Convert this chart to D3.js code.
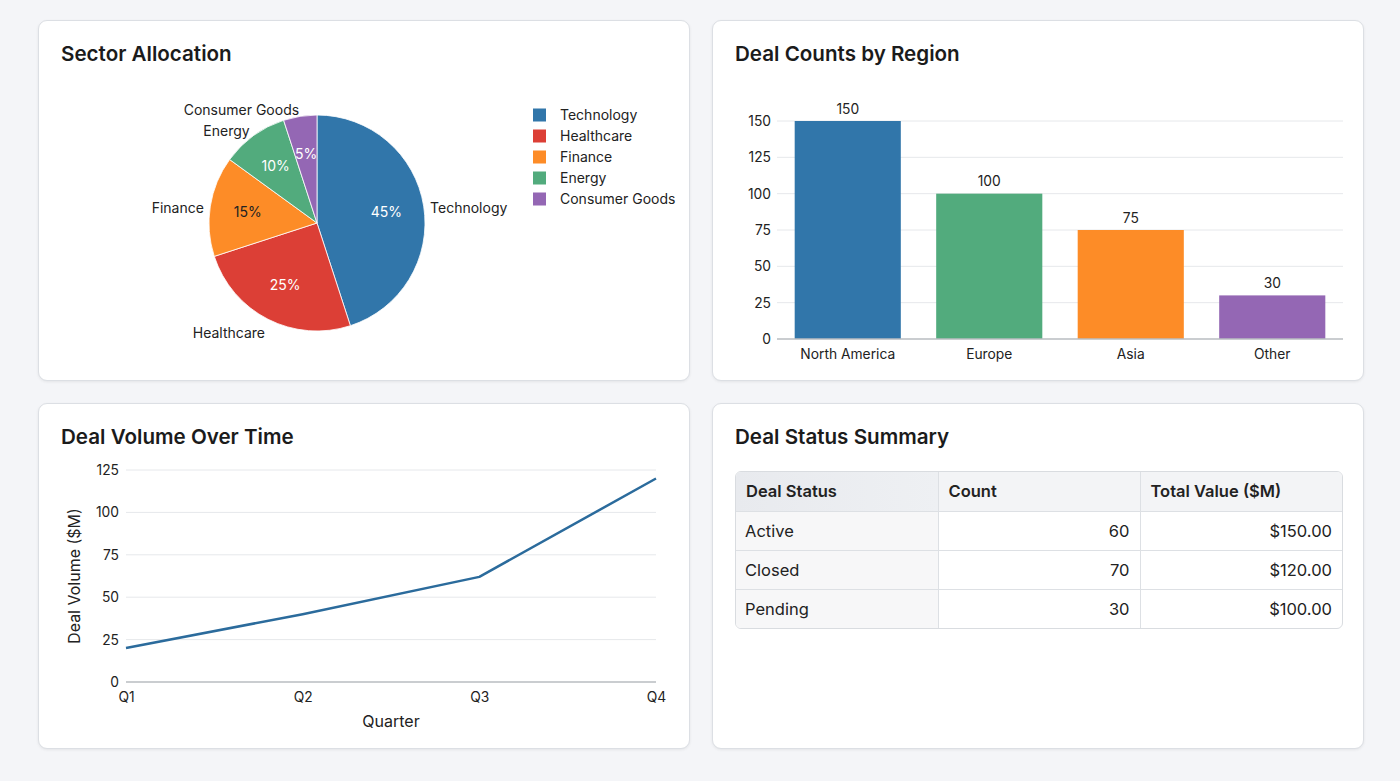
<!DOCTYPE html>
<html>
<head>
<meta charset="utf-8">
<script src="https://cdn.jsdelivr.net/npm/d3@7"></script>
<style>
  html, body { margin: 0; padding: 0; }
  body { width: 1400px; height: 781px; background: #f4f5f8; position: relative; overflow: hidden;
         font-family: Inter, "Noto Sans", sans-serif; }
  .card { position: absolute; background: #fff; border: 1px solid #dcdfe4; border-radius: 9px;
          box-shadow: 0 1px 3px rgba(0,0,0,0.07); box-sizing: border-box; }
  svg#main { position: absolute; left: 0; top: 0; }
  #tbl { position: absolute; left: 735px; top: 471px; width: 608px; border: 1px solid #d9dce0;
         border-radius: 6px; overflow: hidden; box-sizing: border-box; }
  table { border-collapse: collapse; width: 100%; font-size: 16.5px; color: #222; table-layout: fixed; }
  th, td { height: 39px; padding: 0 10px; border-right: 1px solid #dde0e4; border-bottom: 1px solid #dde0e4; box-sizing: border-box; }
  th:last-child, td:last-child { border-right: none; }
  tr:last-child td { border-bottom: none; }
  th { text-align: left; font-weight: 600; background: #f3f4f6; }
  th:first-child { background: linear-gradient(90deg, #e8eaee, #eef0f3); }
  td:first-child { background: #f7f7f8; padding-left: 9px; }
  td.num { text-align: right; }
</style>
</head>
<body>
<div class="card" style="left:38px;top:20px;width:652px;height:361px"></div>
<div class="card" style="left:712px;top:20px;width:652px;height:361px"></div>
<div class="card" style="left:38px;top:403px;width:652px;height:346px"></div>
<div class="card" style="left:712px;top:403px;width:652px;height:346px"></div>
<svg id="main" width="1400" height="781"></svg>
<div id="tbl"></div>
<script>
// ---- data ----
const sectors = ["Technology", "Healthcare", "Finance", "Energy", "Consumer Goods"];
const sectorShares = [45, 25, 15, 10, 5];
const sectorColors = ["#3176aa", "#dc3f36", "#fd8c27", "#52ab7d", "#9467b4"];

const regions = ["North America", "Europe", "Asia", "Other"];
const regionCounts = [150, 100, 75, 30];
const regionColors = ["#3176aa", "#52ab7d", "#fd8c27", "#9467b4"];
const regionTicks = [0, 25, 50, 75, 100, 125, 150];

const quarters = ["Q1", "Q2", "Q3", "Q4"];
const volumes = [20, 40, 62, 120];
const volumeTicks = [0, 25, 50, 75, 100, 125];

const tableHeaders = ["Deal Status", "Count", "Total Value ($M)"];
const statuses = ["Active", "Closed", "Pending"];
const statusCounts = [60, 70, 30];
const statusValues = [150, 120, 100];

const titles = ["Sector Allocation", "Deal Counts by Region", "Deal Volume Over Time", "Deal Status Summary"];

const svg = d3.select("#main");
const txt = "#222";

// titles
const titlePos = [[61, 54], [735, 54], [61, 437], [735, 437]];
svg.selectAll("text.title").data(titles).join("text")
  .attr("class", "title")
  .attr("x", (d, i) => titlePos[i][0]).attr("y", (d, i) => titlePos[i][1])
  .attr("dy", "0.35em")
  .attr("font-size", 20.6).attr("font-weight", 600).attr("fill", "#1b1b1b")
  .text(d => d);

// ---- Pie ----
const cx = 317, cy = 223, R = 108;
const pieData = d3.pie().sort(null).value(d => d.v)(sectors.map((s, i) => ({ s, v: sectorShares[i], c: sectorColors[i] })));
const arc = d3.arc().innerRadius(0).outerRadius(R);
const inArc = d3.arc().innerRadius(R * 0.65).outerRadius(R * 0.65);
const pg = svg.append("g").attr("transform", `translate(${cx},${cy})`);
pg.selectAll("path").data(pieData).join("path")
  .attr("d", arc).attr("fill", d => d.data.c).attr("stroke", "#fff").attr("stroke-width", 0.8);
pg.selectAll("text.in").data(pieData).join("text")
  .attr("class", "in")
  .attr("transform", d => `translate(${inArc.centroid(d)})`)
  .attr("text-anchor", "middle").attr("dy", "0.35em").attr("font-size", 14)
  .attr("fill", d => d.data.s === "Finance" ? "#222" : "#fff")
  .text(d => d.data.v + "%");
function outPos(d) {
  const a = (d.startAngle + d.endAngle) / 2;
  return [Math.sin(a) * R * 1.06, -Math.cos(a) * R * 1.1 + 4];
}
pg.selectAll("text.out").data(pieData).join("text")
  .attr("class", "out")
  .attr("transform", d => `translate(${outPos(d)})`)
  .attr("text-anchor", d => outPos(d)[0] >= 0 ? "start" : "end")
  .attr("dy", "0.35em").attr("font-size", 14).attr("fill", txt)
  .text(d => d.data.s);

// legend
const lg = svg.append("g").attr("transform", "translate(533,115)");
const li = lg.selectAll("g").data(sectors).join("g").attr("transform", (d, i) => `translate(0,${i * 21})`);
li.append("rect").attr("x", 0).attr("y", -6.5).attr("width", 13).attr("height", 13).attr("fill", (d, i) => sectorColors[i]);
li.append("text").attr("x", 27).attr("dy", "0.35em").attr("font-size", 14).attr("fill", txt).text(d => d);

// ---- Bar chart ----
const bx = d3.scaleBand().domain(regions).range([777, 1343]).paddingInner(0.25).paddingOuter(0.125);
const by = d3.scaleLinear().domain([0, 150]).range([339, 121]);
const bg = svg.append("g");
bg.append("g").selectAll("line").data(regionTicks.slice(1)).join("line")
  .attr("x1", 777).attr("x2", 1343).attr("y1", d => by(d)).attr("y2", d => by(d))
  .attr("stroke", "#e6e8eb").attr("stroke-width", 1);
const byAxis = bg.append("g").attr("transform", "translate(777,0)")
  .call(d3.axisLeft(by).tickValues(regionTicks).tickSize(0).tickPadding(6));
byAxis.select(".domain").remove();
byAxis.selectAll("text").attr("font-size", 13.8).attr("fill", txt).attr("font-family", "Inter, sans-serif");
bg.selectAll("rect.bar").data(regions).join("rect").attr("class", "bar")
  .attr("x", d => bx(d)).attr("width", bx.bandwidth())
  .attr("y", (d, i) => by(regionCounts[i])).attr("height", (d, i) => by(0) - by(regionCounts[i]))
  .attr("fill", (d, i) => regionColors[i]);
bg.append("line").attr("x1", 777).attr("x2", 1343).attr("y1", by(0)).attr("y2", by(0))
  .attr("stroke", "#b9bcc1").attr("stroke-width", 1.5);
const bxAxis = bg.append("g").attr("transform", `translate(0,${by(0)})`)
  .call(d3.axisBottom(bx).tickSize(0).tickPadding(10));
bxAxis.select(".domain").remove();
bxAxis.selectAll("text").attr("font-size", 13.8).attr("fill", txt).attr("font-family", "Inter, sans-serif");
bg.selectAll("text.val").data(regions).join("text").attr("class", "val")
  .attr("x", d => bx(d) + bx.bandwidth() / 2).attr("y", (d, i) => by(regionCounts[i]) - 12)
  .attr("dy", "0.35em").attr("text-anchor", "middle").attr("font-size", 13.8).attr("fill", txt)
  .text((d, i) => regionCounts[i]);

// ---- Line chart ----
const lx = d3.scalePoint().domain(quarters).range([126, 656]);
const ly = d3.scaleLinear().domain([0, 125]).range([682, 470]);
const lgp = svg.append("g");
lgp.append("g").selectAll("line").data(volumeTicks.slice(1)).join("line")
  .attr("x1", 126).attr("x2", 656).attr("y1", d => ly(d)).attr("y2", d => ly(d))
  .attr("stroke", "#e6e8eb").attr("stroke-width", 1);
lgp.append("line").attr("x1", 126).attr("x2", 656).attr("y1", ly(0)).attr("y2", ly(0))
  .attr("stroke", "#b9bcc1").attr("stroke-width", 1.5);
const lyAxis = lgp.append("g").attr("transform", "translate(126,0)")
  .call(d3.axisLeft(ly).tickValues(volumeTicks).tickSize(0).tickPadding(7));
lyAxis.select(".domain").remove();
lyAxis.selectAll("text").attr("font-size", 13.8).attr("fill", txt).attr("font-family", "Inter, sans-serif");
const lxAxis = lgp.append("g").attr("transform", `translate(0,${ly(0)})`)
  .call(d3.axisBottom(lx).tickSize(0).tickPadding(10));
lxAxis.select(".domain").remove();
lxAxis.selectAll("text").attr("font-size", 13.8).attr("fill", txt).attr("font-family", "Inter, sans-serif");
lgp.append("path").datum(quarters.map((q, i) => [q, volumes[i]]))
  .attr("d", d3.line().x(d => lx(d[0])).y(d => ly(d[1])))
  .attr("fill", "none").attr("stroke", "#2b6b9c").attr("stroke-width", 2.5).attr("stroke-linejoin", "round");
lgp.append("text").attr("x", 391).attr("y", 721).attr("dy", "0.35em").attr("text-anchor", "middle")
  .attr("font-size", 16).attr("fill", txt).text("Quarter");
lgp.append("text").attr("transform", "translate(74,576) rotate(-90)").attr("dy", "0.35em")
  .attr("text-anchor", "middle").attr("font-size", 16).attr("fill", txt).text("Deal Volume ($M)");

// ---- Table ----
const table = d3.select("#tbl").append("table");
table.append("thead").append("tr").selectAll("th").data(tableHeaders).join("th").text(d => d);
const rows = table.append("tbody").selectAll("tr").data(statuses).join("tr");
rows.append("td").text(d => d);
rows.append("td").attr("class", "num").text((d, i) => statusCounts[i]);
rows.append("td").attr("class", "num").text((d, i) => "$" + statusValues[i].toFixed(2));
</script>
</body>
</html>
